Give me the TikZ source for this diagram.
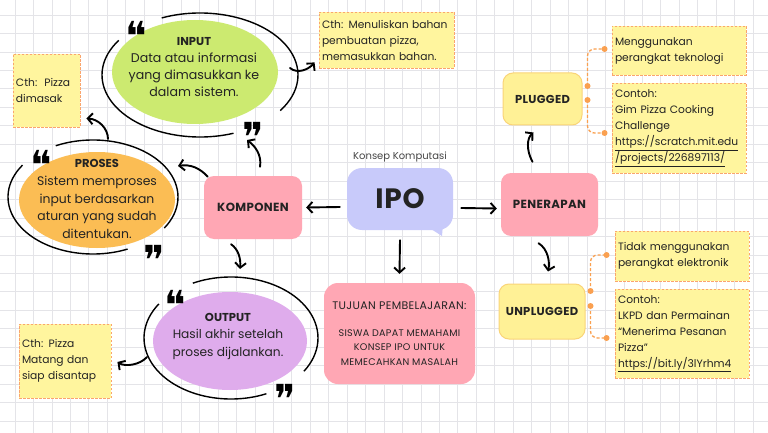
\documentclass[tikz,border=0pt]{standalone}
\usepackage{fontspec}
\setmainfont{Poppins}
\newfontfamily\hand{Poppins}[LetterSpace=3]
\newfontfamily\qfont{DejaVu Sans}
\usetikzlibrary{arrows.meta,calc}
\definecolor{gridc}{RGB}{228,228,232}
\definecolor{lime}{RGB}{204,234,112}
\definecolor{orng}{RGB}{251,189,84}
\definecolor{purp}{RGB}{223,172,236}
\definecolor{pinkb}{RGB}{255,167,180}
\definecolor{lav}{RGB}{200,202,250}
\definecolor{ylw}{RGB}{255,245,158}
\definecolor{ylwb}{RGB}{255,241,150}
\definecolor{ylwedge}{RGB}{250,212,120}
\definecolor{dashc}{RGB}{250,165,110}
\definecolor{dotc}{RGB}{250,160,80}
\definecolor{txt}{RGB}{35,35,35}
\definecolor{subt}{RGB}{70,70,70}
\begin{document}
\begin{tikzpicture}[x=1pt,y=-1pt,
  every node/.style={text=txt},
  arr/.style={line width=1.9pt, line cap=round, -{Straight Barb[length=5pt,width=11pt]}},
  ring/.style={line width=1.4pt, black},
  qmark/.style={font=\qfont\fontsize{40}{40}\selectfont, anchor=base, inner sep=0pt, text=black},
  ybox/.style={fill=ylw, draw=dashc, line width=0.9pt, dash pattern=on 2.5pt off 1.5pt,
    align=left, inner xsep=3pt, inner ysep=2pt, font=\fontsize{10.7}{16}\selectfont},
  pinkbox/.style={fill=pinkb, rounded corners=10pt, font=\hand\bfseries\fontsize{11.8}{16}\selectfont},
  plugbox/.style={fill=ylwb, draw=ylwedge, line width=1pt, rounded corners=10pt, font=\hand\bfseries\fontsize{11.5}{16}\selectfont},
  odash/.style={dotc, line width=1.3pt, dash pattern=on 3pt off 2pt, rounded corners=7pt},
  dotm/.style={fill=dotc, circle, inner sep=0pt, minimum size=6pt},
  etext/.style={align=center, font=\fontsize{12.6}{17.2}\selectfont}
]
\useasboundingbox (0,0) rectangle (768,433);
\fill[white] (0,0) rectangle (768,433);
\foreach \i in {0,...,41} { \draw[gridc, line width=0.7pt] ({15+\i*18.45},0) -- ({15+\i*18.45},433); }
\foreach \j in {0,...,22} { \draw[gridc, line width=0.7pt] (0,{15+\j*18.45}) -- (768,{15+\j*18.45}); }

% ---------- ellipses ----------
\fill[lime] (195,72) ellipse [x radius=83, y radius=52];
\draw[ring] (200,75) ++(247:98 and 62) arc[start angle=247, end angle=395, x radius=98, y radius=62];
\draw[ring] (200,75) ++(70:98 and 62) arc[start angle=70, end angle=214, x radius=98, y radius=62];
\node[etext] (inp) at (194,67) {{\fontsize{11.5}{17}\selectfont\bfseries INPUT}\\Data atau informasi\\yang dimasukkan ke\\dalam sistem.};
\node[qmark] (inpq1) at (136,51) {❝};
\node[qmark] (inpq2) at (253,151) {❞};

\fill[orng] (97,200) ellipse [x radius=78, y radius=48];
\draw[ring] (93,197) ++(244:85 and 57) arc[start angle=244, end angle=393, x radius=85, y radius=57];
\draw[ring] (93,197) ++(66:85 and 57) arc[start angle=66, end angle=214, x radius=85, y radius=57];
\node[etext, font=\fontsize{12.4}{17.8}\selectfont] (pros) at (97,199) {{\fontsize{11.5}{18}\selectfont\bfseries PROSES}\\Sistem memproses\\input berdasarkan\\aturan yang sudah\\ditentukan.};
\node[qmark] (prosq1) at (41,179) {❝};
\node[qmark] (prosq2) at (154,274) {❞};

\fill[purp] (230,341) ellipse [x radius=77, y radius=49];
\draw[ring] (231,338) ++(244:87 and 61) arc[start angle=244, end angle=393, x radius=87, y radius=61];
\draw[ring] (231,338) ++(66:87 and 61) arc[start angle=66, end angle=214, x radius=87, y radius=61];
\node[etext, font=\fontsize{12.2}{17.5}\selectfont] (outp) at (228,336) {{\fontsize{11.5}{17}\selectfont\bfseries OUTPUT}\\Hasil akhir setelah\\proses dijalankan.};
\node[qmark] (outq1) at (175,319) {❝};
\node[qmark] (outq2) at (285,413) {❞};

% ---------- example boxes ----------
\node[ybox, minimum width=67pt, minimum height=73pt, text width=61pt] (cth1) at (46.5,90.5) {Cth:\ \ Pizza\\dimasak};
\node[ybox, minimum width=135pt, minimum height=56pt, text width=129pt] (cth2) at (386.5,40) {Cth: Menuliskan bahan\\pembuatan pizza,\\memasukkan bahan.};
\node[ybox, minimum width=92pt, minimum height=74pt, text width=86pt] (cth3) at (65,361) {Cth: Pizza\\Matang dan\\siap disantap};

\node[ybox, minimum width=134pt, minimum height=49pt, text width=128pt] (pl1) at (679,50.5) {Menggunakan\\perangkat teknologi};
\node[ybox, minimum width=134pt, minimum height=90pt, text width=128pt] (pl2) at (679,128) {Contoh:\\Gim Pizza Cooking\\Challenge\\\underline{https://scratch.mit.edu}\\\underline{/projects/226897113/}};
\node[ybox, minimum width=134pt, minimum height=50pt, text width=128pt] (un1) at (682,256) {Tidak menggunakan\\perangkat elektronik};
\node[ybox, minimum width=134pt, minimum height=89pt, text width=128pt] (un2) at (682,333.5) {Contoh:\\LKPD dan Permainan\\“Menerima Pesanan\\Pizza”\\\underline{https://bit.ly/3lYrhm4}};

% ---------- main boxes ----------
\node[pinkbox, minimum width=98pt, minimum height=63pt] (komp) at (253,207.5) {KOMPONEN};
\node[pinkbox, minimum width=97pt, minimum height=63pt] (pen) at (549.5,204.5) {PENERAPAN};
\node[plugbox, minimum width=79pt, minimum height=52pt] (plug) at (542.5,99) {PLUGGED};
\node[plugbox, minimum width=86pt, minimum height=55pt] (unplug) at (542,311.5) {UNPLUGGED};
\node[fill=pinkb, rounded corners=14pt, minimum width=151pt, minimum height=101pt, align=center,
  font=\hand\fontsize{9.6}{14.5}\selectfont] (tuj) at (399.5,333.5)
  {{\fontsize{11}{14.5}\selectfont TUJUAN PEMBELAJARAN:}\\[12.5pt]SISWA DAPAT MEMAHAMI\\KONSEP IPO UNTUK\\MEMECAHKAN MASALAH};

% IPO speech bubble
\fill[lav] (420,222) -- (442,236) -- (444,212) -- cycle;
\node[fill=lav, rounded corners=15pt, minimum width=106pt, minimum height=62pt, font=\hand\bfseries\fontsize{28}{30}\selectfont] (ipo) at (400,199) {IPO};
\node[font=\fontsize{10}{12}\selectfont, text=subt] (kk) at (400,157) {Konsep Komputasi};

% ---------- coordinates on rings ----------
\coordinate (inpArr) at (247,140);
\coordinate (prosArr) at (178,166);
\coordinate (outArr) at (240,269);
\coordinate (prosTop) at (108,139);
\coordinate (inpRight) at (290,68);
\coordinate (outLeft) at (147,357);

% ---------- arrows ----------
\draw[arr] ($(komp.north)+(7,-9)$) .. controls (262,155) and (255,146) .. (inpArr);
\draw[arr] ($(komp.north west)+(4,1)$) .. controls (200,168) and (190,164) .. (prosArr);
\draw[arr] ($(komp.south)+(-22,5)$) .. controls (238,249) and (241,258) .. (outArr);
\draw[arr] (prosTop) .. controls (108,128) and (98,119) .. ($(cth1.south east)+(6,-9)$);
\draw[arr] (inpRight) .. controls (297,74) and (308,70) .. ($(cth2.south west)+(-4,-6)$);
\draw[arr] ($(ipo.west)+(-7,8)$) -- ($(komp.east)+(4,0)$);
\draw[arr] ($(ipo.east)+(8,9)$) -- ($(pen.west)+(-4,4)$);
\draw[arr] ($(ipo.south)+(0,10)$) -- ($(tuj.north)+(0,-9)$);
\draw[arr] ($(pen.north)+(-17,-11)$) .. controls (526,150) and (527,138) .. ($(plug.south)+(-9,7)$);
\draw[arr] ($(pen.south)+(-11,7)$) .. controls (548,249) and (550,262) .. ($(unplug.north)+(6,-12)$);
\draw[arr] (outLeft) .. controls (140,365) and (125,367) .. ($(cth3.east)+(6,1)$);

% ---------- orange dashed connectors ----------
\coordinate (pa) at ($(plug.east)+(5,-13)$);
\coordinate (pb) at ($(pl1.west)+(-7,-1.5)$);
\coordinate (pc) at ($(plug.east)+(5,1)$);
\coordinate (pd) at ($(pl2.west)+(-7,5)$);
\coordinate (ua) at ($(unplug.east)+(5,-20.5)$);
\coordinate (ub) at ($(un1.west)+(-8,-1)$);
\coordinate (uc) at ($(unplug.east)+(5,-5.5)$);
\coordinate (ud) at ($(un2.west)+(-8,4.5)$);
\draw[odash] (pa) |- (pb);
\draw[odash] (pc) |- (pd);
\draw[odash] (ua) |- (ub);
\draw[odash] (uc) |- (ud);
\foreach \p in {pa,pb,pc,pd,ua,ub,uc,ud} { \node[dotm] at (\p) {}; }
\end{tikzpicture}
\end{document}
